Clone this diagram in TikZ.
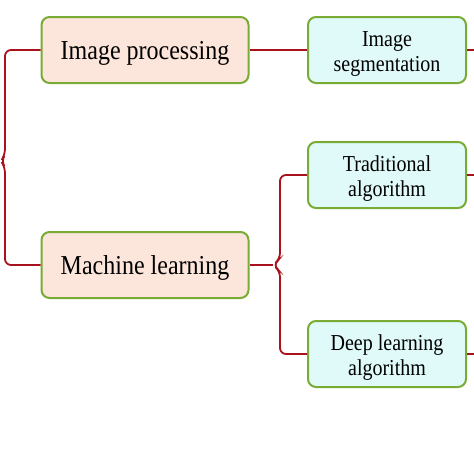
\documentclass[tikz,border=0pt]{standalone}
\usepackage{fontspec}
\setmainfont{Liberation Serif}
\definecolor{peachfill}{RGB}{252,229,218}
\definecolor{cyanfill}{RGB}{224,250,250}
\definecolor{leafgreen}{RGB}{120,172,52}
\definecolor{branchred}{RGB}{168,18,28}
\newcommand{\tallcell}[1]{\raisebox{0pt}[\dimexpr\height+8pt\relax][\depth]{\scalebox{1}[1.14]{\begin{tabular}{@{}c@{}}#1\end{tabular}}}}

\begin{document}
\begin{tikzpicture}[x=1pt, y=-1pt,
    mainbox/.style={draw=leafgreen, line width=2pt, fill=peachfill, rounded corners=8pt,
        minimum width=207pt, minimum height=66pt, inner sep=0pt,
        font=\fontsize{24}{26}\selectfont},
    subbox/.style={draw=leafgreen, line width=2pt, fill=cyanfill, rounded corners=8pt,
        minimum width=158pt, minimum height=66pt, inner sep=0pt,
        font=\fontsize{20}{21.5}\selectfont},
    link/.style={draw=branchred, line width=1.8pt}]
        \useasboundingbox (0,0) rectangle (474,474);
        % main branches
        \node[mainbox] (imgproc) at (145,50) {\tallcell{Image processing}};
        \node[mainbox] (mlearn) at (145,265) {\tallcell{Machine learning}};
        % leaves
        \node[subbox] (imgseg) at (387,50) {\tallcell{Image\\segmentation}};
        \node[subbox] (tradalg) at (387,175) {\tallcell{Traditional\\algorithm}};
        \node[subbox] (deepalg) at (387,354) {\tallcell{Deep learning\\algorithm}};
        % loose ends at the right border
        \coordinate (segend) at (474,50);
        \coordinate (tradend) at (474,175);
        \coordinate (deepend) at (474,354);
        % left brace
        \draw[link, rounded corners=6pt] (imgproc.west) -| (5,155) -- (1,161) -- (5,167) |- (mlearn.west);
        % brace of machine learning
        \draw[link, rounded corners=6pt] (tradalg.west) -| (280,259) -- (273,265) -- (280,271) |- (deepalg.west);
        \draw[link] (mlearn.east) -- (273,265);
        \draw[link] (imgproc) -- (imgseg);
        \draw[link] (imgseg) -- (segend);
        \draw[link] (tradalg) -- (tradend);
        \draw[link] (deepalg) -- (deepend);
    \end{tikzpicture}
\end{document}
